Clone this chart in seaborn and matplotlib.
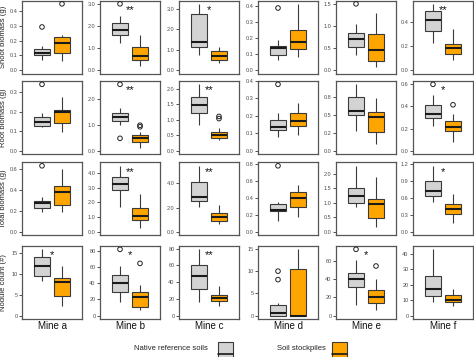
import numpy as np
import pandas as pd
import matplotlib
matplotlib.use("Agg")
import matplotlib.pyplot as plt
import seaborn as sns
from matplotlib.patches import Rectangle
from matplotlib.lines import Line2D

MINES = ["Mine a", "Mine b", "Mine c", "Mine d", "Mine e", "Mine f"]
GROUPS = ["Native reference soils", "Soil stockpiles"]
MEASURES = ["Shoot biomass (g)", "Root biomass (g)", "Total biomass (g)", "Nodule count (#)"]

# box summaries per mine: [low whisker, Q1, median, Q3, high whisker]
SHOOT_NATIVE = [[0.069, 0.103, 0.114, 0.141, 0.165], [1.21, 1.60, 1.79, 2.13, 2.43],
                [0.75, 1.15, 1.39, 2.72, 3.23], [0.061, 0.096, 0.136, 0.151, 0.186],
                [0.35, 0.52, 0.71, 0.84, 1.05], [0.225, 0.325, 0.417, 0.489, 0.55]]
SHOOT_STOCK = [[0.063, 0.114, 0.181, 0.228, 0.24], [0.18, 0.45, 0.64, 1.03, 1.58],
               [0.37, 0.50, 0.71, 0.91, 1.15], [0.082, 0.132, 0.174, 0.251, 0.413],
               [0.08, 0.22, 0.47, 0.82, 1.31], [0.086, 0.136, 0.183, 0.219, 0.342]]
SHOOT_NATIVE_OUT = [[0.293], [2.99], [], [0.387], [1.51], []]
SHOOT_STOCK_OUT = [[0.45], [], [], [], [], []]

ROOT_NATIVE = [[0.123, 0.128, 0.148, 0.170, 0.191], [1.00, 1.17, 1.30, 1.45, 1.66],
               [0.82, 1.21, 1.49, 1.74, 2.15], [0.077, 0.119, 0.138, 0.176, 0.218],
               [0.278, 0.50, 0.55, 0.75, 0.93], [0.224, 0.30, 0.33, 0.415, 0.50]]
ROOT_STOCK = [[0.097, 0.143, 0.197, 0.208, 0.273], [0.10, 0.35, 0.48, 0.60, 0.74],
              [0.36, 0.41, 0.51, 0.61, 0.74], [0.09, 0.142, 0.170, 0.216, 0.272],
              [0.09, 0.255, 0.467, 0.547, 0.74], [0.079, 0.18, 0.21, 0.264, 0.33]]
ROOT_NATIVE_OUT = [[0.339], [2.58, 0.48], [], [0.381], [], [0.60]]
ROOT_STOCK_OUT = [[], [0.93, 0.99], [1.04, 1.11], [], [], [0.415]]

TOTAL_NATIVE = [[0.19, 0.224, 0.27, 0.297, 0.335], [1.70, 2.84, 3.25, 3.70, 4.48],
                [2.01, 2.52, 2.85, 4.14, 5.45], [0.13, 0.24, 0.26, 0.33, 0.357],
                [0.87, 0.98, 1.24, 1.52, 2.28], [0.52, 0.62, 0.72, 0.90, 1.16]]
TOTAL_STOCK = [[0.19, 0.255, 0.377, 0.438, 0.60], [0.25, 0.82, 1.09, 1.61, 2.59],
               [0.64, 0.90, 1.20, 1.54, 2.18], [0.17, 0.294, 0.396, 0.475, 0.553],
               [0.15, 0.48, 0.95, 1.14, 1.90], [0.16, 0.31, 0.40, 0.49, 0.66]]
TOTAL_NATIVE_OUT = [[0.63], [], [], [0.78], [], []]
TOTAL_STOCK_OUT = [[], [], [], [], [], []]

NODULE_NATIVE = [[8.2, 9.4, 11.95, 13.95, 15.9], [16.4, 29.5, 40.6, 49.6, 60.7],
                 [16.8, 31.6, 47.2, 60.8, 79.2], [0, 0, 0.5, 2.3, 2.9],
                 [11.6, 31.6, 40.0, 46.2, 60.7], [9.1, 13.0, 17.4, 25.4, 42.8]]
NODULE_STOCK = [[2.2, 4.65, 8.0, 9.0, 11.95], [7, 11, 23.4, 29.5, 37.3],
                [11.2, 17.6, 20.8, 24.8, 35.6], [0, 0, 0, 10.4, 14.9],
                [6.2, 14.2, 20.0, 28.0, 39.6], [6.3, 9.1, 10.2, 13.5, 17.2]]
NODULE_NATIVE_OUT = [[], [81.6], [], [8.1, 10.0], [72.4], []]
NODULE_STOCK_OUT = [[], [64.3], [], [], [54.2], []]

SHOOT_SIG = ["", "**", "*", "", "", "**"]
ROOT_SIG = ["", "**", "**", "", "", "*"]
TOTAL_SIG = ["", "**", "**", "", "", "*"]
NODULE_SIG = ["*", "*", "**", "", "*", ""]

SHOOT_TICKS = [[0, .1, .2, .3, .4], [0, 1, 2, 3], [0, 1, 2, 3], [0, .1, .2, .3, .4], [0, .5, 1, 1.5], [0, .2, .4]]
ROOT_TICKS = [[0, .1, .2, .3], [0, 1, 2], [0, .5, 1, 1.5, 2], [0, .1, .2, .3, .4], [0, .25, .5, .75], [0, .2, .4, .6]]
TOTAL_TICKS = [[0, .2, .4, .6], [0, 1, 2, 3, 4], [0, 2, 4], [0, .2, .4, .6, .8], [0, .5, 1, 1.5, 2], [0, .3, .6, .9, 1.2]]
NODULE_TICKS = [[0, 5, 10, 15], [0, 20, 40, 60, 80], [0, 20, 40, 60, 80], [0, 5, 10, 15], [0, 20, 40, 60], [0, 10, 20, 30, 40]]

ROWS = [
    (SHOOT_NATIVE, SHOOT_STOCK, SHOOT_NATIVE_OUT, SHOOT_STOCK_OUT, SHOOT_SIG, SHOOT_TICKS, "{:.1f}"),
    (ROOT_NATIVE, ROOT_STOCK, ROOT_NATIVE_OUT, ROOT_STOCK_OUT, ROOT_SIG, ROOT_TICKS, "{:.1f}"),
    (TOTAL_NATIVE, TOTAL_STOCK, TOTAL_NATIVE_OUT, TOTAL_STOCK_OUT, TOTAL_SIG, TOTAL_TICKS, "{:.1f}"),
    (NODULE_NATIVE, NODULE_STOCK, NODULE_NATIVE_OUT, NODULE_STOCK_OUT, NODULE_SIG, NODULE_TICKS, "{:.0f}"),
]

PALETTE = {GROUPS[0]: "#d3d3d3", GROUPS[1]: "#ffa500"}

sns.set_style("white")
plt.rcParams["font.family"] = ["Liberation Sans", "DejaVu Sans"]

W, H = 474, 357
fig = plt.figure(figsize=(W / 100, H / 100), dpi=100)

COL_X = [22, 100, 179, 258, 336, 413]
PW = 60
ROW_Y = [(0.5, 73.5), (81, 154), (162.5, 235), (246, 319)]

EDGE = "#3a3a3a"

for r, (nat, stk, nat_out, stk_out, sig, ticks, fmt) in enumerate(ROWS):
    yt, yb = ROW_Y[r]
    for c, mine in enumerate(MINES):
        ax = fig.add_axes([COL_X[c] / W, (H - yb) / H, PW / W, (yb - yt) / H])
        box_df = pd.DataFrame({
            "mine": [mine] * 10,
            "soil": [GROUPS[0]] * 5 + [GROUPS[1]] * 5,
            "value": list(nat[c]) + list(stk[c]),
        })
        sns.boxplot(data=box_df, x="mine", y="value", hue="soil", hue_order=GROUPS,
                    palette=PALETTE, width=0.8, gap=0.16, whis=np.inf, showfliers=False,
                    linecolor=EDGE, linewidth=0.8, saturation=1,
                    medianprops=dict(color="#1a1a1a", linewidth=1.5),
                    capprops=dict(linewidth=0), legend=False, ax=ax)
        out_vals = list(nat_out[c]) + list(stk_out[c])
        if out_vals:
            out_df = pd.DataFrame({
                "mine": [mine] * len(out_vals),
                "soil": [GROUPS[0]] * len(nat_out[c]) + [GROUPS[1]] * len(stk_out[c]),
                "value": out_vals,
            })
            n0 = len(ax.collections)
            sns.stripplot(data=out_df, x="mine", y="value", hue="soil", hue_order=GROUPS,
                          palette=PALETTE, dodge=True, jitter=False, size=3.3,
                          linewidth=0.7, edgecolor="#222222", legend=False, ax=ax)
            for coll in ax.collections[n0:]:
                coll.set_facecolor("none")
                coll.set_edgecolor("#222222")
        all_vals = list(nat[c]) + list(stk[c]) + out_vals
        m = max(all_vals)
        ax.set_ylim(-0.05 * m, 1.05 * m)
        ax.set_xlim(-0.6, 0.6)
        ax.set_xticks([])
        ax.set_xlabel("")
        ax.set_ylabel("")
        ax.set_yticks(ticks[c])
        ax.set_yticklabels([fmt.format(t) for t in ticks[c]])
        ax.tick_params(axis="y", left=True, length=2, width=0.6, color="#333333",
                       pad=1.2, labelsize=4.0, labelcolor="#4d4d4d")
        for s in ax.spines.values():
            s.set_visible(True)
            s.set_color("#555555")
            s.set_linewidth(0.9)
        if sig[c]:
            ax.text(0.5, 0.83, sig[c], transform=ax.transAxes, ha="center", va="baseline",
                    fontsize=8, color="#111111")
        if c == 0:
            ax.text((4 - COL_X[0]) / PW, 0.5, MEASURES[r], transform=ax.transAxes,
                    rotation=90, ha="center", va="center", fontsize=5.5, color="#222222")
        if r == 3:
            ax.text(0.5, 1 - (326 - yt) / (yb - yt), mine, transform=ax.transAxes,
                    ha="center", va="center", fontsize=7, color="#111111")

# legend
fig.text(208 / W, (H - 349) / H, GROUPS[0], ha="right", va="center", fontsize=5.5, color="#222222")
fig.text(277 / W, (H - 349) / H, GROUPS[1], ha="left", va="center", fontsize=5.5, color="#222222")
for x0, col in [(218, PALETTE[GROUPS[0]]), (332, PALETTE[GROUPS[1]])]:
    fig.add_artist(Rectangle((x0 / W, (H - 362) / H), 14.5 / W, 20 / H, transform=fig.transFigure,
                             facecolor=col, edgecolor=EDGE, linewidth=0.8))
    fig.add_artist(Line2D([x0 / W, (x0 + 14.5) / W], [(H - 354) / H] * 2, transform=fig.transFigure,
                          color="#1a1a1a", linewidth=1.2))

fig.savefig("out.png", dpi=100)
